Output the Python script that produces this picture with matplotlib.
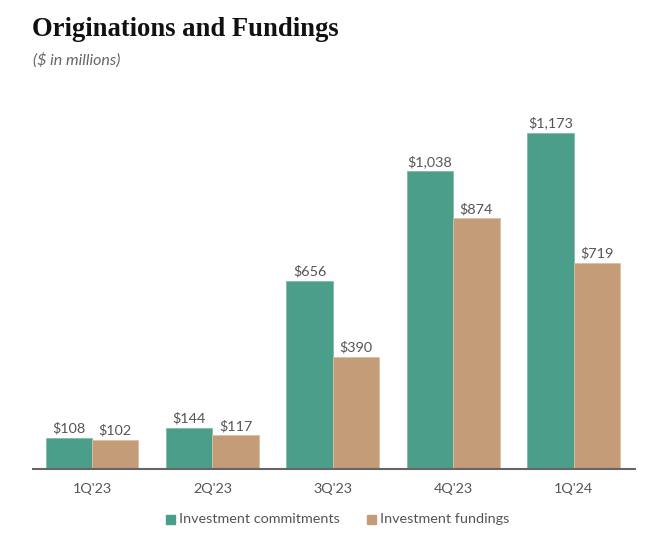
import numpy as np
import matplotlib.pyplot as plt
from matplotlib.patches import Rectangle

# Quarterly originations data ($ in millions)
quarters = ["1Q'23", "2Q'23", "3Q'23", "4Q'23", "1Q'24"]
commitments = [108, 144, 656, 1038, 1173]
fundings = [102, 117, 390, 874, 719]

green = '#4b9e89'
tan = '#c49c77'
text_col = '#555555'
label_font = dict(family='Lato', weight='normal')

fig = plt.figure(figsize=(6.72, 5.47), dpi=100)
W, H = 672, 547
# axes placed in pixel coords: left 33, right 635, top 80, bottom 469
ax = fig.add_axes([33 / W, 1 - 469 / H, (635 - 33) / W, (469 - 80) / H])

idx = np.arange(len(quarters))
bar_width = 0.385

b1 = ax.bar(idx - bar_width / 2, commitments, bar_width, color=green,
            edgecolor='#7fbcaa', linewidth=0.6)
b2 = ax.bar(idx + bar_width / 2, fundings, bar_width, color=tan,
            edgecolor='#d9bfa5', linewidth=0.6)

for bars, vals in [(b1, commitments), (b2, fundings)]:
    for rect, v in zip(bars, vals):
        ax.text(rect.get_x() + rect.get_width() / 2, v + 12, '${:,}'.format(v),
                ha='center', va='bottom', fontsize=10.4, color=text_col,
                **label_font)

ax.set_xlim(-0.49, 4.51)
ax.set_ylim(0, 1357)
ax.set_xticks(idx)
ax.set_xticklabels(quarters, fontsize=10.4, color=text_col, **label_font)
ax.tick_params(axis='x', length=0, pad=10)
ax.set_yticks([])
for s in ['top', 'left', 'right']:
    ax.spines[s].set_visible(False)
ax.spines['bottom'].set_color('#666666')
ax.spines['bottom'].set_linewidth(1.5)

# Title and subtitle
fig.text(32 / W, 1 - 29 / H, 'Originations and Fundings', fontsize=19.2,
         fontweight='bold', family='Liberation Serif', color='#111111',
         va='center', ha='left')
fig.text(33 / W, 1 - 60 / H, '($ in millions)', fontsize=11.5, style='italic',
         color='#666666', va='center', ha='left', **label_font)

# Legend drawn manually
ly = 1 - 519 / H
for x0, col, txt in [(166, green, 'Investment commitments'),
                     (367, tan, 'Investment fundings')]:
    fig.patches.append(Rectangle((x0 / W, ly - 4.5 / H), 9 / W, 9 / H,
                                 color=col, transform=fig.transFigure))
    fig.text((x0 + 13) / W, ly, txt, fontsize=10.4, color=text_col,
             va='center', ha='left', **label_font)

fig.savefig('out.png', dpi=100)
